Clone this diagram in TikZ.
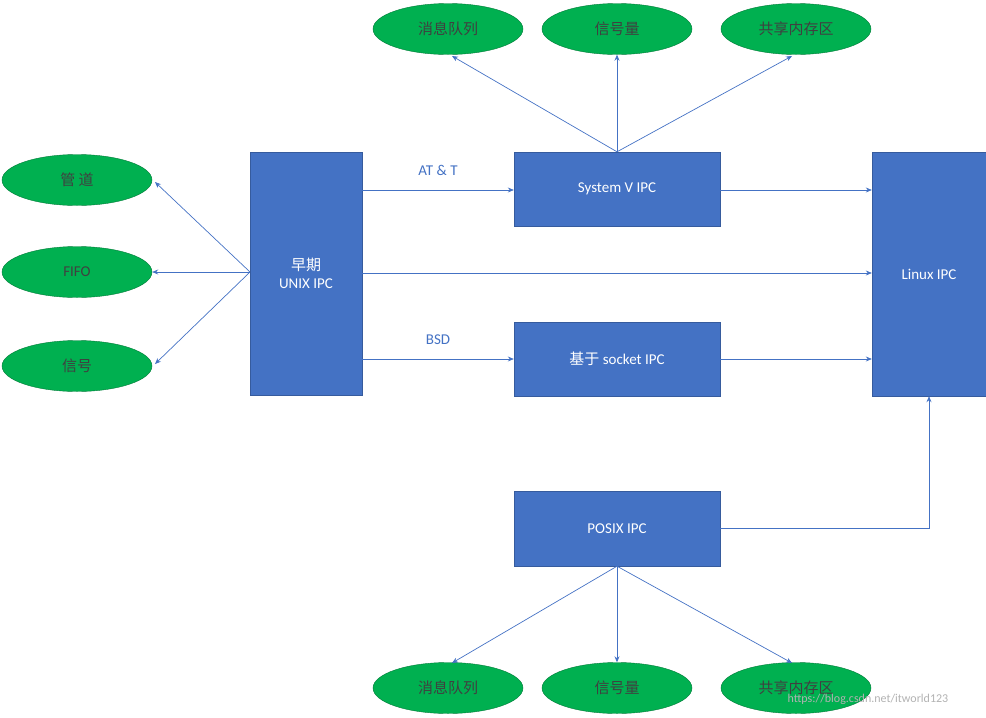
\documentclass[tikz,border=0pt]{standalone}
\usepackage{fontspec}
\setmainfont{Carlito}
\newfontfamily\cjk{Noto Sans CJK SC}
\usetikzlibrary{shapes.geometric,arrows.meta}
\definecolor{bl}{HTML}{4472C4}
\definecolor{gr}{HTML}{00B050}
\definecolor{tx}{HTML}{404040}
\begin{document}
\begin{tikzpicture}[x=1pt,y=-1pt,
  box/.style={draw=bl!80!black,fill=bl,text=white,font=\fontsize{15}{18}\selectfont,align=center,minimum width=#1,inner sep=0},
  ell/.style={ellipse,draw=gr!70!black,fill=gr,text=tx,font=\fontsize{15}{18}\selectfont,minimum width=150,minimum height=51,inner sep=0},
  arr/.style={draw=bl,line width=0.7pt,-{Stealth[length=6pt,width=5pt]}},
  lab/.style={text=bl,font=\fontsize{15}{18}\selectfont}]
\useasboundingbox (0,0) rectangle (986,718);
\node[box=112,minimum height=243] (unix) at (306,273.5) {{\cjk 早期}\\UNIX IPC};
\node[box=206,minimum height=74] (sysv) at (617,189) {System V IPC};
\node[box=206,minimum height=74] (sock) at (617,359) {{\cjk 基于} socket IPC};
\node[box=114,minimum height=244] (linux) at (929,274) {Linux IPC};
\node[box=206,minimum height=75] (posix) at (617,528.5) {POSIX IPC};
\node[ell] (pipe) at (77,180) {\cjk 管 道};
\node[ell] (fifo) at (77,272) {FIFO};
\node[ell] (sig) at (77,366) {\cjk 信号};
\node[ell] (t1) at (448,29) {\cjk 消息队列};
\node[ell] (t2) at (617,29) {\cjk 信号量};
\node[ell] (t3) at (796,29) {\cjk 共享内存区};
\node[ell] (b1) at (448,688) {\cjk 消息队列};
\node[ell] (b2) at (617,688) {\cjk 信号量};
\node[ell] (b3) at (796,688) {\cjk 共享内存区};
\coordinate (u0) at (250,272);
\draw[arr] (u0) -- (155,182);
\draw[arr] (u0) -- (fifo.east);
\draw[arr] (u0) -- (155,364);
\draw[arr] (sysv.north) -- (452,56);
\draw[arr] (sysv.north) -- (t2.south);
\draw[arr] (sysv.north) -- (792,56);
\draw[arr] (362,190) -- (sysv.west |- 0,190);
\draw[arr] (362,273) -- (linux.west |- 0,273);
\draw[arr] (362,359) -- (sock.west |- 0,359);
\draw[arr] (720,190) -- (linux.west |- 0,190);
\draw[arr] (720,359) -- (linux.west |- 0,359);
\draw[arr] (posix.east) -| (linux.south);
\draw[arr] (posix.south) -- (452,663);
\draw[arr] (posix.south) -- (b2.north);
\draw[arr] (posix.south) -- (792,663);
\node[lab] (att) at (438,170) {AT \& T};
\node[lab] (bsd) at (438,340) {BSD};
\node[text=gray!60,font=\fontsize{12}{14}\selectfont] (wm) at (868,699) {https://blog.csdn.net/itworld123};
\end{tikzpicture}
\end{document}
